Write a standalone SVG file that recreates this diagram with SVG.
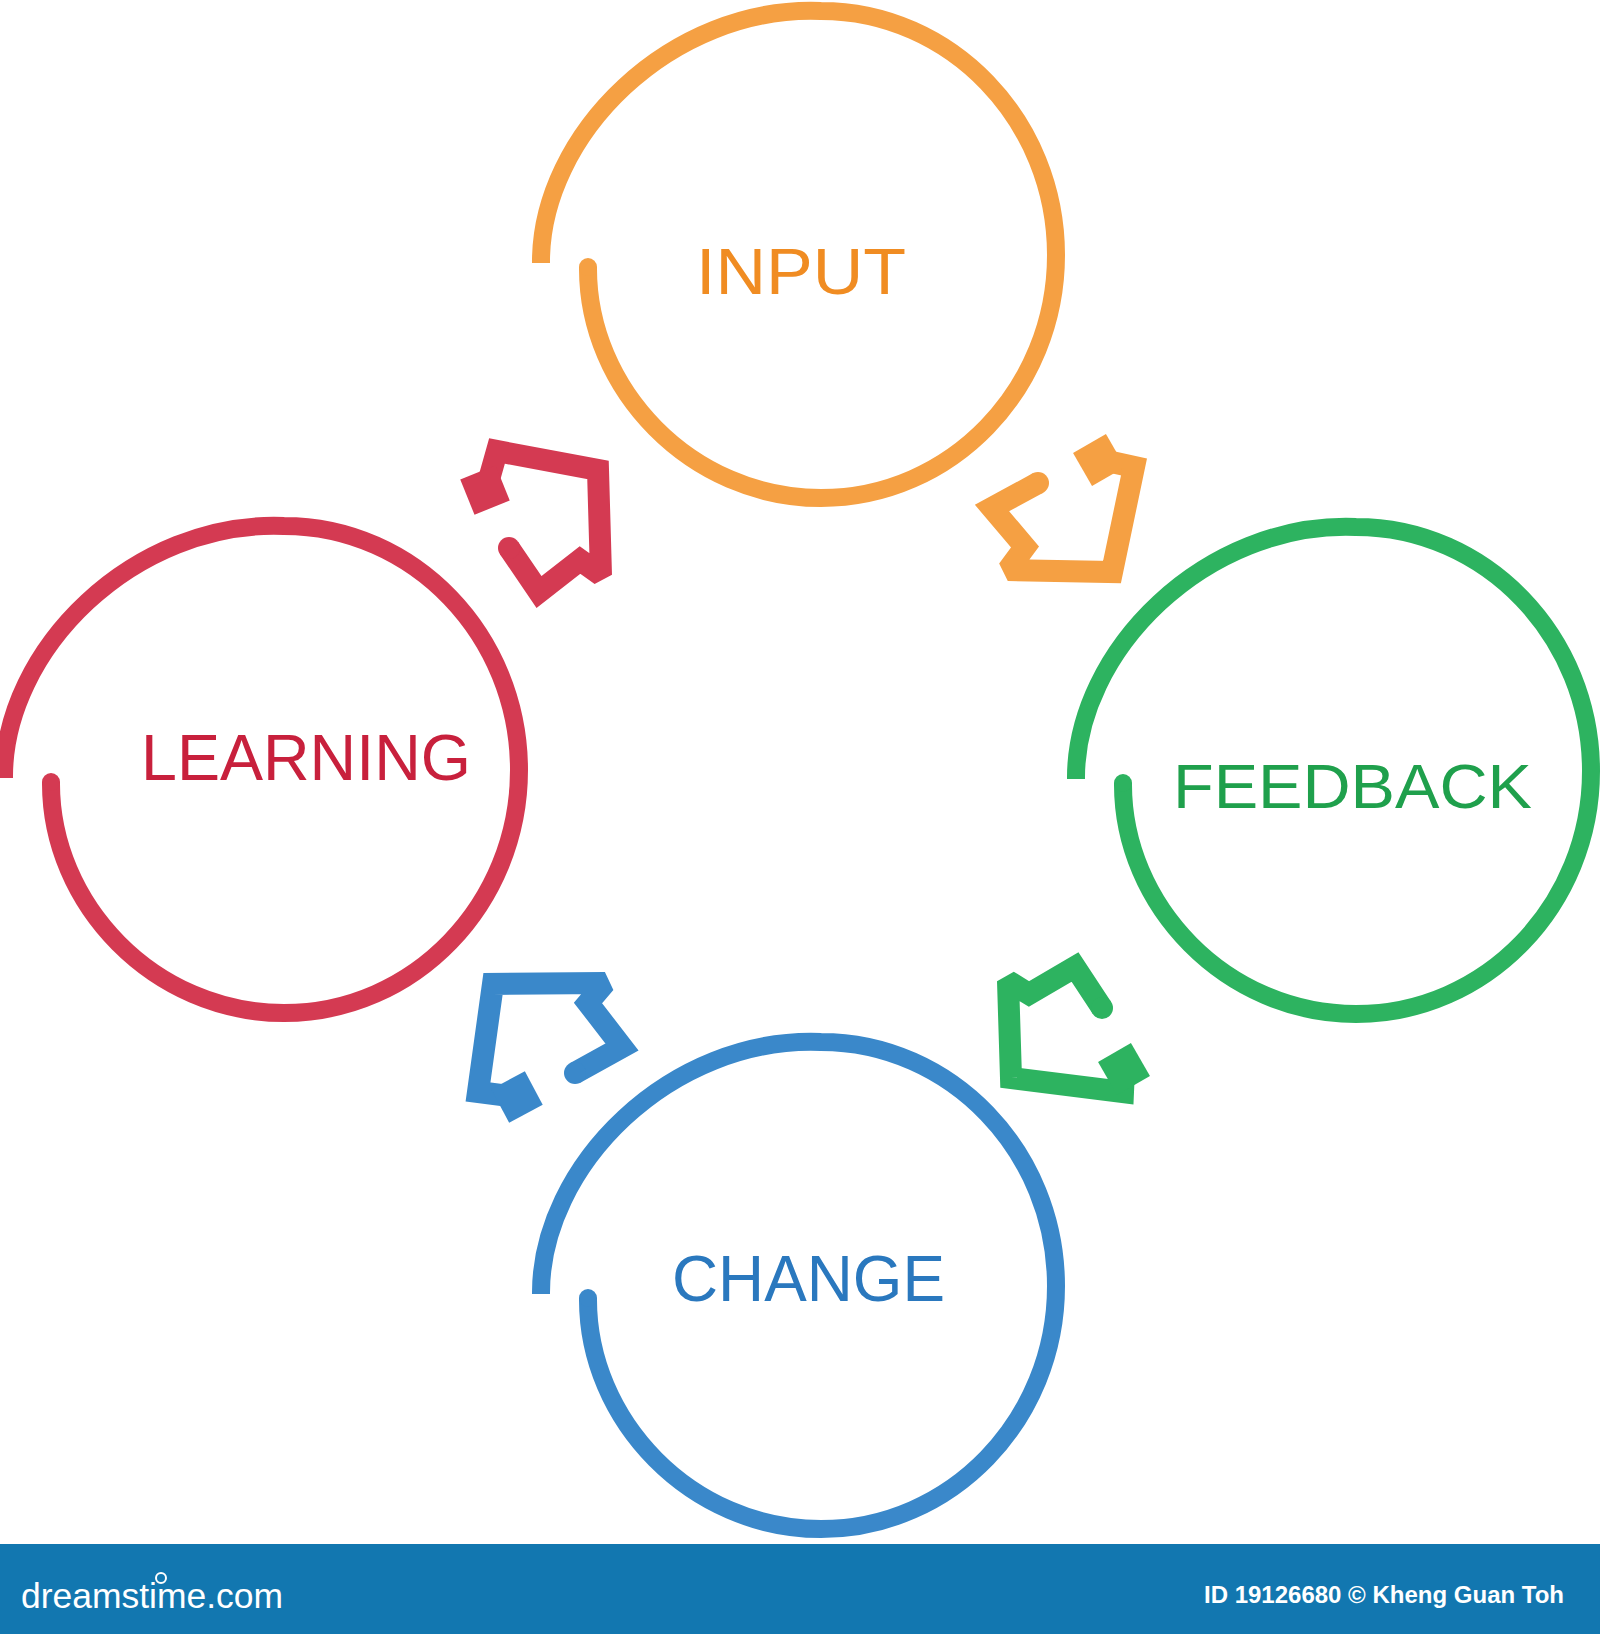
<svg xmlns="http://www.w3.org/2000/svg" width="1600" height="1634" viewBox="0 0 1600 1634">
  <defs>
    <path id="ring" d="M -280 8 C -281 -120 -150 -250 0 -244 C 130 -244 235 -134 235 0 C 235 134 130 243 0 243 C -130 243 -234 134 -233 12"/>
    <rect id="blk" x="-19" y="-19" width="38" height="38"/>
  </defs>
  <style>
    .ring { fill: none; stroke-width: 18; stroke-linecap: butt; }
    .label { font-family: "Liberation Sans", Arial, sans-serif; font-weight: normal; }
    .arrow { fill: none; stroke-width: 22; stroke-linejoin: miter; stroke-miterlimit: 2; stroke-linecap: butt; }
    .orange { stroke: #F5A043; }
    .red { stroke: #D43A52; }
    .green { stroke: #2DB360; }
    .blue { stroke: #3A88CA; }
    .foot { font-family: "Liberation Sans", Arial, sans-serif; fill: #ffffff; }
  </style>
  <rect x="0" y="0" width="1600" height="1634" fill="#ffffff"/>

  <g id="node-input">
    <use href="#ring" class="ring orange" transform="translate(821,255)"/>
    <circle cx="588" cy="267" r="9" fill="#F5A043"/>
    <text class="label" x="696" y="294" font-size="64" fill="#F08C22" textLength="210" lengthAdjust="spacingAndGlyphs">INPUT</text>
  </g>

  <g id="node-feedback">
    <use href="#ring" class="ring green" transform="translate(1356,771)"/>
    <circle cx="1123" cy="783" r="9" fill="#2DB360"/>
    <text class="label" x="1173" y="808" font-size="63" fill="#1FA04C" textLength="359" lengthAdjust="spacingAndGlyphs">FEEDBACK</text>
  </g>

  <g id="node-change">
    <use href="#ring" class="ring blue" transform="translate(821,1286)"/>
    <circle cx="588" cy="1298" r="9" fill="#3A88CA"/>
    <text class="label" x="672" y="1301" font-size="65" fill="#2A78BE" textLength="273" lengthAdjust="spacingAndGlyphs">CHANGE</text>
  </g>

  <g id="node-learning">
    <use href="#ring" class="ring red" transform="translate(284,770)"/>
    <circle cx="51" cy="782" r="9" fill="#D43A52"/>
    <text class="label" x="141" y="780" font-size="65" fill="#C8203C" textLength="330" lengthAdjust="spacingAndGlyphs">LEARNING</text>
  </g>

  <g id="connectors">
    <g id="arrow-learning-input">
      <path class="arrow red" d="M 486 490 L 497 451 L 598 470 L 601 575 L 580 560 L 539 592 L 509 548"/>
      <circle cx="509" cy="548" r="11" fill="#D43A52"/>
      <use href="#blk" fill="#D43A52" transform="translate(485,490) rotate(-22)"/>
    </g>
    <g id="arrow-input-feedback">
      <path class="arrow orange" d="M 1038 483 L 992 508 L 1025 547 L 1008 570 L 1112 572 L 1134 467 L 1098 459"/>
      <circle cx="1038" cy="483" r="11" fill="#F5A043"/>
      <use href="#blk" fill="#F5A043" transform="translate(1099,460) rotate(-30)"/>
    </g>
    <g id="arrow-feedback-change">
      <path class="arrow green" d="M 1102 1008 L 1075 967 L 1029 994 L 1008 981 L 1011 1078 L 1123 1092 L 1124 1069"/>
      <circle cx="1102" cy="1008" r="11" fill="#2DB360"/>
      <use href="#blk" fill="#2DB360" transform="translate(1124,1069) rotate(-30)"/>
    </g>
    <g id="arrow-change-learning">
      <path class="arrow blue" d="M 517 1097 L 478 1092 L 493 984 L 605 983 L 588 1003 L 622 1047 L 575 1073"/>
      <circle cx="575" cy="1073" r="11" fill="#3A88CA"/>
      <use href="#blk" fill="#3A88CA" transform="translate(517,1097) rotate(-28)"/>
    </g>
  </g>

  <g id="footer">
    <rect x="0" y="1544" width="1600" height="90" fill="#1277B0"/>
    <text class="foot" x="21" y="1608" font-size="35" textLength="262" lengthAdjust="spacingAndGlyphs">dreamstime.com</text>
    <circle cx="161" cy="1578" r="5" fill="none" stroke="#ffffff" stroke-width="2"/>
    <text class="foot" x="1204" y="1603" font-size="24" font-weight="bold">ID 19126680 © Kheng Guan Toh</text>
  </g>
</svg>
